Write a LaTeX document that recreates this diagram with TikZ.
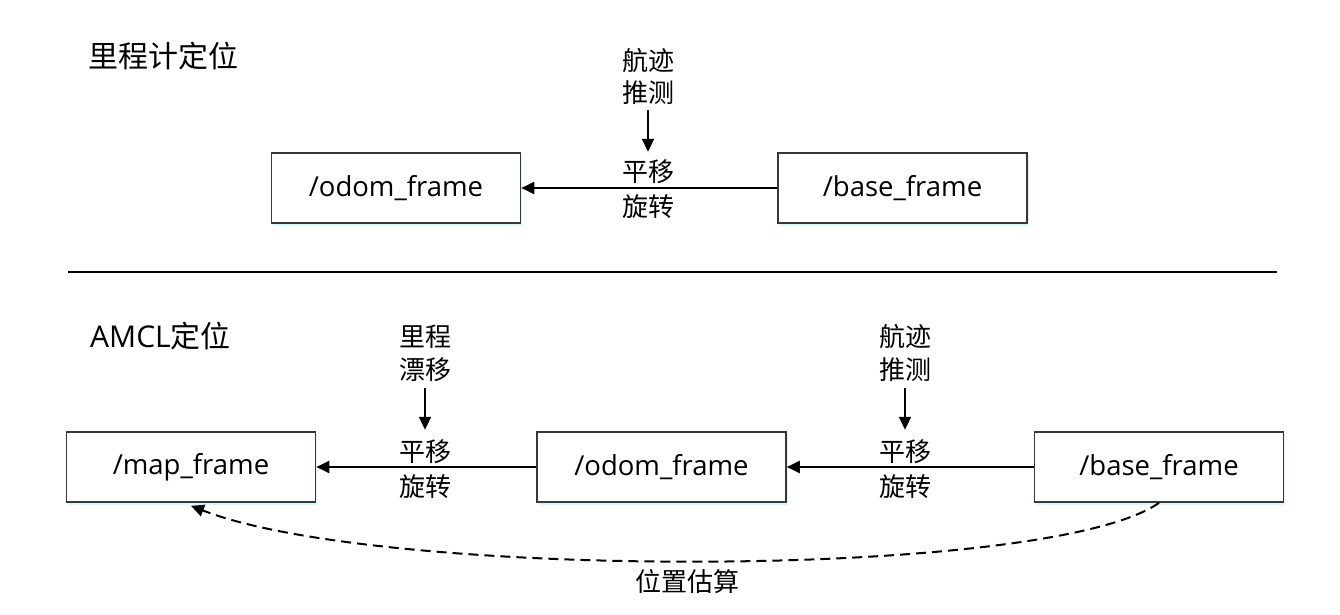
\documentclass[tikz,border=0pt]{standalone}
\usepackage{fontspec}
\setmainfont{Open Sans}
\newfontfamily\cjk{Noto Sans CJK SC}
\usetikzlibrary{arrows.meta,shadows}
\begin{document}
\begin{tikzpicture}[x=1pt,y=-1pt,
  frame/.style={draw=black!78, line width=1.6pt, fill=white,
    minimum width=249pt, minimum height=70pt, inner sep=0pt,
    font=\fontsize{27.5}{32}\selectfont,
    drop shadow={shadow xshift=1.5pt, shadow yshift=-2.5pt, fill=blue!25!cyan!20!white, opacity=0.7}},
  lbl/.style={font=\cjk\fontsize{26}{30}\selectfont, inner sep=0pt,
    text height=22pt, text depth=4pt},
  head/.style={font=\fontsize{30}{36}\selectfont, anchor=west, inner sep=0pt},
  link/.style={line width=2pt, -{Triangle[length=13pt,width=12pt]}},
  estimate/.style={link, dash pattern=on 10pt off 6pt},
]
\useasboundingbox (0,0) rectangle (1340,614);

% ---- odometry localisation ----
\node[head] (h1) at (88,56) {\cjk 里程计定位};
\node[frame] (o1) at (396,188) {/odom\_frame};
\node[frame] (b1) at (902.5,188) {/base\_frame};
\node[lbl] (d1a) at (648,61) {航迹};
\node[lbl] (d1b) at (648,93) {推测};
\node[lbl] (t1) at (648,172) {平移};
\node[lbl] (r1) at (648,207) {旋转};
\draw[link] (b1.west) -- (o1.east);
\draw[link, shorten <=4pt, shorten >=7pt] (d1b.south) -- (t1.north);

% ---- separator ----
\coordinate (sepL) at (68,272);
\coordinate (sepR) at (1277,272);
\draw[line width=2pt] (sepL) -- (sepR);

% ---- AMCL localisation ----
\node[head] (h2) at (90,336) {AMCL\cjk 定位};
\node[frame] (m2) at (191,467) {/map\_frame};
\node[frame] (o2) at (661.5,467) {/odom\_frame};
\node[frame] (b2) at (1159,467) {/base\_frame};

\node[lbl] (d2a) at (425,337) {里程};
\node[lbl] (d2b) at (425,370) {漂移};
\node[lbl] (t2) at (425,452) {平移};
\node[lbl] (r2) at (425,487) {旋转};

\node[lbl] (d3a) at (905,337) {航迹};
\node[lbl] (d3b) at (905,370) {推测};
\node[lbl] (t3) at (905,452) {平移};
\node[lbl] (r3) at (905,487) {旋转};

\draw[link] (o2.west) -- (m2.east);
\draw[link] (b2.west) -- (o2.east);
\draw[link, shorten <=5pt, shorten >=9pt] (d2b.south) -- (t2.north);
\draw[link, shorten <=5pt, shorten >=9pt] (d3b.south) -- (t3.north);

% pose estimate
\draw[estimate] (b2.south) .. controls (1050,580) and (380,580) .. ([yshift=-3pt]m2.south);
\node[lbl] (pe) at (687,582) {位置估算};
\end{tikzpicture}
\end{document}
